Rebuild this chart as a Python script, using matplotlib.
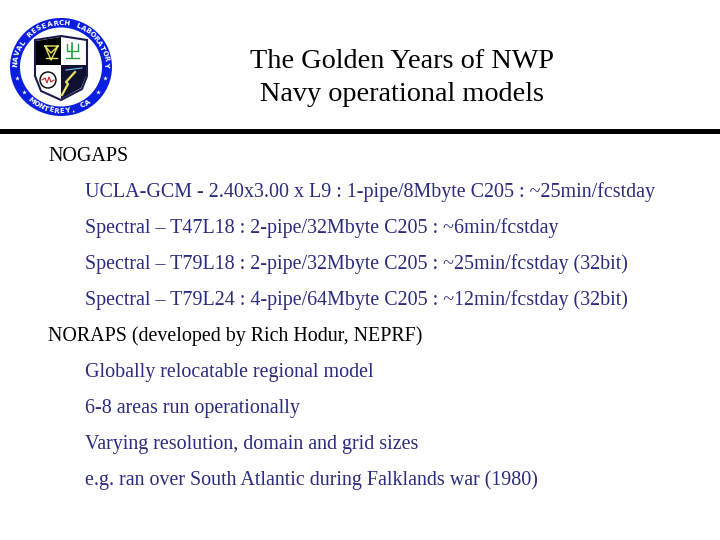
import numpy as np
import matplotlib
matplotlib.use('Agg')
import matplotlib.pyplot as plt
from matplotlib.patches import Ellipse, Polygon, Rectangle, Circle

plt.rcParams['font.family'] = ['Liberation Serif', 'DejaVu Serif']

title_lines = ['The Golden Years of NWP', 'Navy operational models']
nogaps_head = 'NOGAPS'
nogaps_items = [
    'UCLA-GCM - 2.40x3.00 x L9 : 1-pipe/8Mbyte C205 : ~25min/fcstday',
    'Spectral – T47L18 : 2-pipe/32Mbyte C205 : ~6min/fcstday',
    'Spectral – T79L18 : 2-pipe/32Mbyte C205 : ~25min/fcstday (32bit)',
    'Spectral – T79L24 : 4-pipe/64Mbyte C205 : ~12min/fcstday (32bit)',
]
noraps_head = 'NORAPS (developed by Rich Hodur, NEPRF)'
noraps_items = [
    'Globally relocatable regional model',
    '6-8 areas run operationally',
    'Varying resolution, domain and grid sizes',
    'e.g. ran over South Atlantic during Falklands war (1980)',
]
ring_top = 'NAVAL RESEARCH LABORATORY'
ring_bottom = 'MONTEREY, CA'

navy = '#2b2b80'
blue = '#0a1ee0'
body_size = 14.42

fig = plt.figure(figsize=(7.2, 5.4), dpi=100)
ax = fig.add_axes([0, 0, 1, 1])
ax.set_xlim(0, 720)
ax.set_ylim(540, 0)
ax.axis('off')

# title
ax.text(402.5, 68, title_lines[0], fontsize=20.35, ha='center', va='baseline')
ax.text(402, 101, title_lines[1], fontsize=20.35, ha='center', va='baseline')

# heavy rule
ax.add_patch(Rectangle((0, 129), 720, 5, color='black', lw=0))

# body text
y = 161
ax.text(48, y, nogaps_head, fontsize=body_size, va='baseline')
y += 36
for s in nogaps_items:
    ax.text(85, y, s, fontsize=body_size, va='baseline', color=navy)
    y += 36
ax.text(48, y, noraps_head, fontsize=body_size, va='baseline')
y += 36
for s in noraps_items:
    ax.text(85, y, s, fontsize=body_size, va='baseline', color=navy)
    y += 36

# logo, ring
cx, cy = 61, 67
ax.add_patch(Ellipse((cx, cy), 102, 98, color=blue, lw=0))
ax.add_patch(Ellipse((cx, cy), 82, 79, color='white', lw=0))

# ring lettering
for i, ch in enumerate(ring_top):
    a = np.radians(176 - i * 172 / (len(ring_top) - 1))
    ax.text(cx + 45.5 * np.cos(a), cy - 44 * np.sin(a), ch, fontsize=5,
            color='white', ha='center', va='center', family='DejaVu Sans',
            weight='bold', rotation=np.degrees(a) - 90)
for i, ch in enumerate(ring_bottom):
    a = np.radians(-130 + i * 76 / (len(ring_bottom) - 1))
    ax.text(cx + 45.5 * np.cos(a), cy - 44 * np.sin(a), ch, fontsize=5,
            color='white', ha='center', va='center', family='DejaVu Sans',
            weight='bold', rotation=np.degrees(a) + 90)
for a in (-165, -145, -35, -15):
    ar = np.radians(a)
    ax.plot(cx + 45.5 * np.cos(ar), cy - 44 * np.sin(ar), marker='*', ms=3.5, color='white', mew=0)

# shield
outline = [(35, 40), (61, 36), (87, 40), (87, 76), (82, 89), (61, 100), (41, 91), (35, 76)]
ax.add_patch(Polygon(outline, closed=True, fc='white', ec='#1a1a50', lw=1.5, zorder=3))
ax.add_patch(Polygon([(36, 41), (61, 37), (61, 65), (36, 65)], closed=True, fc='black', lw=0, zorder=4))
ax.add_patch(Polygon([(61, 65), (86, 65), (86, 76), (81, 88), (61, 99)], closed=True, fc='#101030', lw=0, zorder=4))

# top left emblem
ax.plot([45, 58, 51, 45, 51, 58], [46, 46, 60, 46, 53, 46], color='#e8e060', lw=1, zorder=5)
ax.plot([46, 57], [58, 58], color='#e8e060', lw=1, zorder=5)
# trident
ax.plot([72, 72], [43, 58], color='#20a040', lw=1.2, zorder=5)
ax.plot([67, 67, 78, 78], [44, 51, 51, 44], color='#20a040', lw=1, zorder=5)
ax.plot([66, 79], [58, 58], color='#20a040', lw=1, zorder=5)
# bottom left instrument
ax.add_patch(Circle((48, 80), 8, fc='white', ec='black', lw=1, zorder=5))
ax.plot([42, 45, 47, 49, 51, 54], [80, 78, 83, 77, 82, 80], color='#d02020', lw=0.8, zorder=6)
# bottom right lightning
ax.plot([62, 68, 66, 75], [95, 84, 82, 72], color='#e8e060', lw=1.6, zorder=5)
ax.plot([66, 82], [70, 68], color='#60c0e0', lw=0.8, zorder=5)

fig.savefig('out.png', dpi=100)
